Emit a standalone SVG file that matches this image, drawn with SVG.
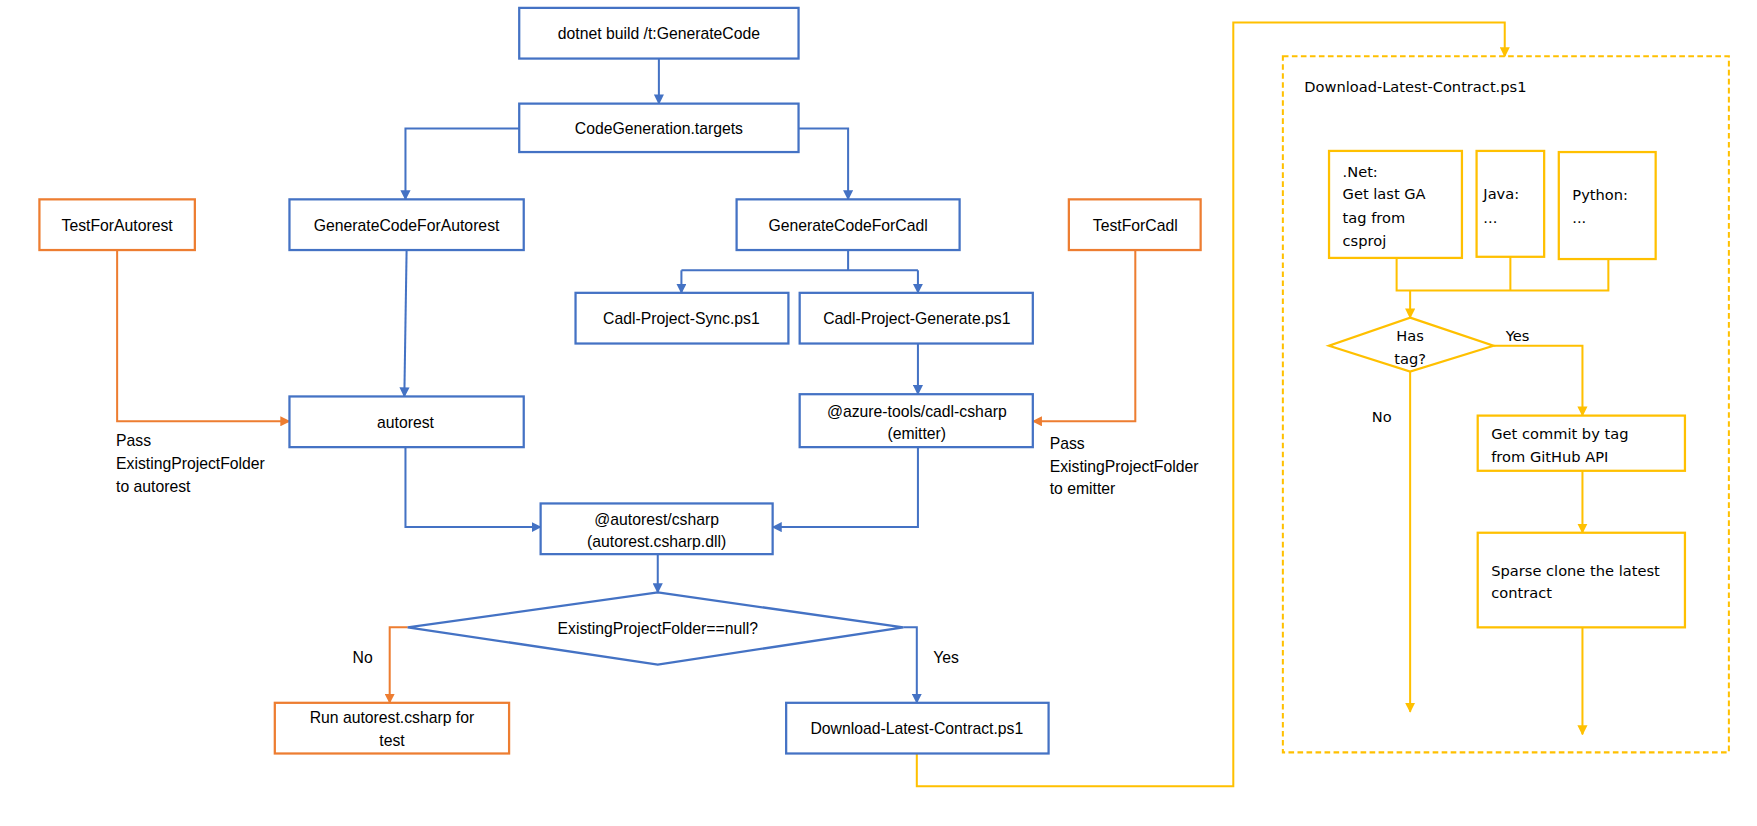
<svg xmlns="http://www.w3.org/2000/svg" width="1757" height="826" viewBox="0 0 1757 826">
<style>
.b{fill:#fff;stroke:#4472C4;stroke-width:2}
.o{fill:#fff;stroke:#ED7D31;stroke-width:2}
.y{fill:#fff;stroke:#FFC000;stroke-width:2}
.cb{fill:none;stroke:#4472C4;stroke-width:1.8}
.co{fill:none;stroke:#ED7D31;stroke-width:1.8}
.cy{fill:none;stroke:#FFC000;stroke-width:1.8}
text{font-family:"Liberation Sans",Arial,sans-serif;font-size:14px;fill:#000}
.m{text-anchor:middle}
.r text{font-family:"DejaVu Sans",sans-serif;font-size:13px}
</style>
<defs>
<marker id="ab" viewBox="0 0 10 10" refX="9" refY="5" markerWidth="5" markerHeight="5" orient="auto"><path d="M0,0L10,5L0,10z" fill="#4472C4"/></marker>
<marker id="ao" viewBox="0 0 10 10" refX="9" refY="5" markerWidth="5" markerHeight="5" orient="auto"><path d="M0,0L10,5L0,10z" fill="#ED7D31"/></marker>
<marker id="ay" viewBox="0 0 10 10" refX="9" refY="5" markerWidth="5" markerHeight="5" orient="auto"><path d="M0,0L10,5L0,10z" fill="#FFC000"/></marker>
</defs>
<rect width="1757" height="826" fill="#fff"/>
<g transform="scale(1.1263)">
<g id="connectors">
<path class="cb" marker-end="url(#ab)" d="M585,52V92"/>
<path class="cb" marker-end="url(#ab)" d="M461,114H360V177"/>
<path class="cb" marker-end="url(#ab)" d="M709,114H753V177"/>
<path class="cb" d="M753,222V240M605,240H815"/>
<path class="cb" marker-end="url(#ab)" d="M605,240V260"/>
<path class="cb" marker-end="url(#ab)" d="M815,240V260"/>
<path class="cb" marker-end="url(#ab)" d="M361,222L359,352"/>
<path class="co" marker-end="url(#ao)" d="M104,222V374H257"/>
<path class="cb" marker-end="url(#ab)" d="M815,305V350"/>
<path class="co" marker-end="url(#ao)" d="M1008,222V374H917"/>
<path class="cb" marker-end="url(#ab)" d="M360,397V468H480"/>
<path class="cb" marker-end="url(#ab)" d="M815,397V468H686"/>
<path class="cb" marker-end="url(#ab)" d="M584,492V526"/>
<path class="co" marker-end="url(#ao)" d="M362,557H346V624"/>
<path class="cb" marker-end="url(#ab)" d="M802,557H814V624"/>
<path class="cy" marker-end="url(#ay)" d="M814,669V698H1095V20H1336V50"/>
<path class="cy" d="M1240,229V258H1428V230M1341,228V258"/>
<path class="cy" marker-end="url(#ay)" d="M1252,258V282"/>
<path class="cy" marker-end="url(#ay)" d="M1326,307H1405V369"/>
<path class="cy" marker-end="url(#ay)" d="M1252,330V632"/>
<path class="cy" marker-end="url(#ay)" d="M1405,418V473"/>
<path class="cy" marker-end="url(#ay)" d="M1405,557V652"/>
</g>
<g id="dotnet"><rect class="b" x="461" y="7" width="248" height="45"/><text class="m" x="585" y="35">dotnet build /t:GenerateCode</text></g>
<g id="codegen"><rect class="b" x="461" y="92" width="248" height="43"/><text class="m" x="585" y="119">CodeGeneration.targets</text></g>
<g id="testautorest"><rect class="o" x="35" y="177" width="138" height="45"/><text class="m" x="104" y="205">TestForAutorest</text></g>
<g id="genautorest"><rect class="b" x="257" y="177" width="208" height="45"/><text class="m" x="361" y="205">GenerateCodeForAutorest</text></g>
<g id="gencadl"><rect class="b" x="654" y="177" width="198" height="45"/><text class="m" x="753" y="205">GenerateCodeForCadl</text></g>
<g id="testcadl"><rect class="o" x="949" y="177" width="117" height="45"/><text class="m" x="1008" y="205">TestForCadl</text></g>
<g id="cadlsync"><rect class="b" x="511" y="260" width="189" height="45"/><text class="m" x="605" y="288">Cadl-Project-Sync.ps1</text></g>
<g id="cadlgen"><rect class="b" x="710" y="260" width="207" height="45"/><text class="m" x="814" y="288">Cadl-Project-Generate.ps1</text></g>
<g id="autorest"><rect class="b" x="257" y="352" width="208" height="45"/><text class="m" x="360" y="380">autorest</text></g>
<g id="passautorest"><text x="103" y="396">Pass</text><text x="103" y="416">ExistingProjectFolder</text><text x="103" y="437">to autorest</text></g>
<g id="emitter"><rect class="b" x="710" y="350" width="207" height="47"/><text class="m" x="814" y="370">@azure-tools/cadl-csharp</text><text class="m" x="814" y="390">(emitter)</text></g>
<g id="passemitter"><text x="932" y="399">Pass</text><text x="932" y="419">ExistingProjectFolder</text><text x="932" y="439">to emitter</text></g>
<g id="csharp"><rect class="b" x="480" y="447" width="206" height="45"/><text class="m" x="583" y="466">@autorest/csharp</text><text class="m" x="583" y="486">(autorest.csharp.dll)</text></g>
<g id="decision"><path class="b" d="M584,526L802,557L584,590L362,557Z"/><text class="m" x="584" y="563">ExistingProjectFolder==null?</text></g>
<text class="m" x="322" y="589">No</text>
<text class="m" x="840" y="589">Yes</text>
<g id="runtest"><rect class="o" x="244" y="624" width="208" height="45"/><text class="m" x="348" y="642">Run autorest.csharp for</text><text class="m" x="348" y="662">test</text></g>
<g id="download"><rect class="b" x="698" y="624" width="233" height="45"/><text class="m" x="814" y="652">Download-Latest-Contract.ps1</text></g>
<g id="dlgroup" class="r">
<rect x="1139" y="50" width="396" height="618" fill="none" stroke="#FFC000" stroke-width="1.8" stroke-dasharray="5,3"/>
<text x="1158" y="82">Download-Latest-Contract.ps1</text>
<g id="net"><rect class="y" x="1180" y="134" width="118" height="95"/><text x="1192" y="157">.Net:</text><text x="1192" y="177">Get last GA</text><text x="1192" y="198">tag from</text><text x="1192" y="218">csproj</text></g>
<g id="java"><rect class="y" x="1311" y="134" width="60" height="94"/><text x="1317" y="177">Java:</text><text x="1317" y="198">...</text></g>
<g id="python"><rect class="y" x="1384" y="135" width="86" height="95"/><text x="1396" y="178">Python:</text><text x="1396" y="198">...</text></g>
<g id="hastag"><path class="y" d="M1252,282L1326,307L1252,330L1180,307Z"/><text class="m" x="1252" y="303">Has</text><text class="m" x="1252" y="323">tag?</text></g>
<text x="1337" y="303">Yes</text>
<text x="1218" y="375">No</text>
<g id="commit"><rect class="y" x="1312" y="369" width="184" height="49"/><text x="1324" y="390">Get commit by tag</text><text x="1324" y="410">from GitHub API</text></g>
<g id="sparse"><rect class="y" x="1312" y="473" width="184" height="84"/><text x="1324" y="511">Sparse clone the latest</text><text x="1324" y="531">contract</text></g>
</g>
</g>
</svg>
